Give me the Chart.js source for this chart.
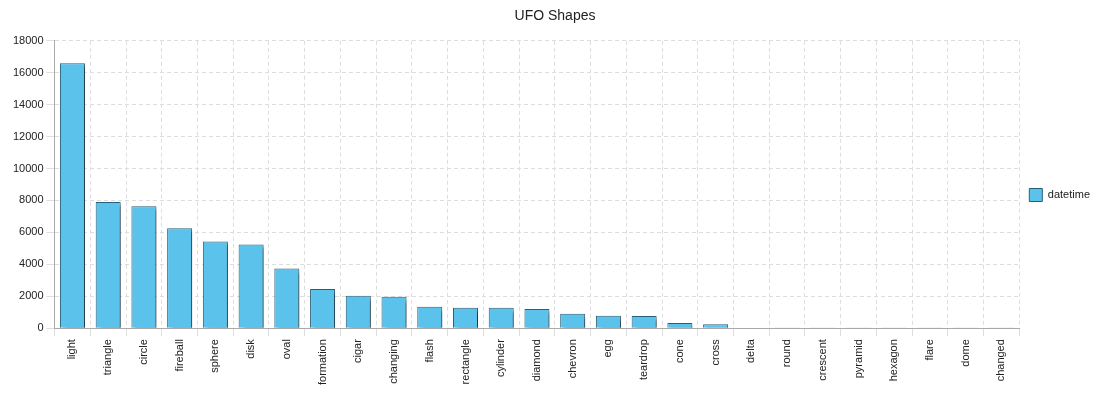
<!DOCTYPE html>
<html><head><meta charset="utf-8">
<script src="https://cdn.jsdelivr.net/npm/chart.js@4/dist/chart.umd.min.js"></script>
<style>html,body{margin:0;padding:0;background:#fff}#w{width:1110px;height:402px}</style>
</head><body><div id="w"><canvas id="c"></canvas></div>
<script>
const categories=["light","triangle","circle","fireball","sphere","disk","oval","formation","cigar","changing","flash","rectangle","cylinder","diamond","chevron","egg","teardrop","cone","cross","delta","round","crescent","pyramid","hexagon","flare","dome","changed"];
const datetime=[16600,7900,7640,6250,5430,5240,3730,2460,2030,1970,1340,1280,1280,1200,900,770,760,320,250,20,15,15,15,15,15,15,15];
const yTicks=[0,2000,4000,6000,8000,10000,12000,14000,16000,18000];
const shadow={id:'shadow',beforeDatasetDraw(c){const x=c.ctx;x.shadowColor='rgba(0,0,0,0.45)';x.shadowOffsetX=3;x.shadowOffsetY=3;x.shadowBlur=3;},afterDatasetDraw(c){const x=c.ctx;x.shadowColor='rgba(0,0,0,0)';x.shadowBlur=0;x.shadowOffsetX=0;x.shadowOffsetY=0;}};
new Chart(document.getElementById('c'),{type:'bar',
data:{labels:categories,datasets:[{label:'datetime',data:datetime,backgroundColor:'#5bc2ec',borderColor:'#2a5f7a',borderWidth:1,categoryPercentage:0.7,barPercentage:1}]},
options:{responsive:true,maintainAspectRatio:false,animation:false,
layout:{padding:{left:10,right:10,top:2,bottom:14}},
plugins:{title:{display:true,text:'UFO Shapes',color:'#222',font:{family:'Liberation Sans',size:14,weight:'normal'},padding:{top:6,bottom:16}},
legend:{position:'right',labels:{boxWidth:13,boxHeight:13,color:'#222',font:{family:'Liberation Sans',size:11}}}},
scales:{x:{grid:{color:'#ddd'},border:{dash:[4,3],color:'#aaa'},ticks:{maxRotation:90,minRotation:90,autoSkip:false,color:'#222',font:{family:'Liberation Sans',size:11}}},
y:{min:0,max:18000,afterBuildTicks:a=>{a.ticks=yTicks.map(v=>({value:v}));},grid:{color:'#ddd'},border:{dash:[4,3],color:'#aaa'},ticks:{callback:v=>String(v),color:'#222',font:{family:'Liberation Sans',size:11}}}}},
plugins:[shadow]});
</script></body></html>
